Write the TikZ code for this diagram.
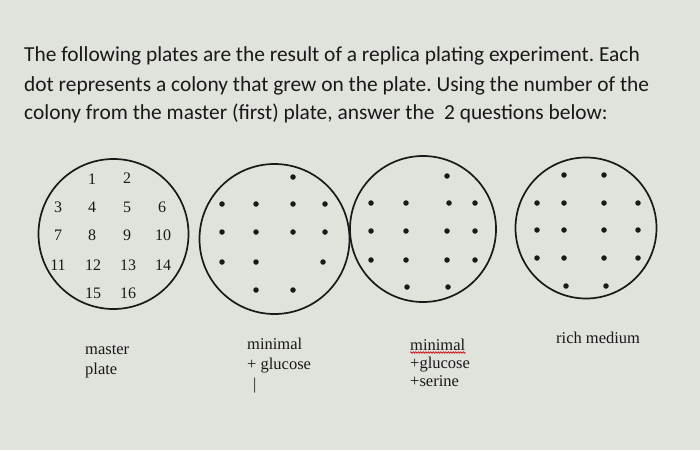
\documentclass[tikz,border=0pt]{standalone}
\usepackage{fontspec}
\setmainfont{Liberation Serif}
\newfontfamily\titlefont{Carlito}
\usetikzlibrary{decorations.pathmorphing}
\frenchspacing
\definecolor{bgcol}{RGB}{224,226,220}
\definecolor{inkcol}{RGB}{25,25,25}
\tikzset{
  plate/.style={circle, draw=inkcol, line width=1.7pt, inner sep=0pt},
  colony/.style={circle, fill=inkcol, inner sep=0pt, minimum size=5.5pt},
  num/.style={font=\fontsize{16}{16}\selectfont, text=inkcol, inner sep=0pt},
  titleline/.style={anchor=base west, inner sep=0pt, text=inkcol, font=\titlefont\fontsize{21.4}{21.4}\selectfont},
  lab/.style={anchor=base west, inner sep=0pt, text=inkcol, font=\fontsize{16.5}{16.5}\selectfont},
}
\begin{document}
\begin{tikzpicture}[x=1pt,y=-1pt]
\fill[bgcol] (0,0) rectangle (700,450);
\useasboundingbox (0,0) rectangle (700,450);
% title
\node[titleline] (t1) at (24,61) {The following plates are the result of a replica plating experiment. Each};
\node[titleline] (t2) at (24,91) {dot represents a colony that grew on the plate. Using the number of the};
\node[titleline] (t3) at (24,119) {colony from the master (first) plate, answer the\ \ 2 questions below:};
% plates
\node[plate, minimum size=150pt] (p1) at (113.5,234) {};
\node[plate, minimum size=150pt] (p2) at (274.5,239) {};
\node[plate, minimum size=146pt] (p3) at (423,229) {};
\node[plate, minimum size=141pt] (p4) at (586,228) {};
% master numbers
\node[num] (n1) at (92,179) {1};
\node[num] (n2) at (127,178) {2};
\node[num] (n3) at (58,207) {3};
\node[num] (n4) at (92,207) {4};
\node[num] (n5) at (127,207) {5};
\node[num] (n6) at (162,207) {6};
\node[num] (n7) at (58,235) {7};
\node[num] (n8) at (92,235) {8};
\node[num] (n9) at (127,235) {9};
\node[num] (n10) at (163,235) {10};
\node[num] (n11) at (58,265) {11};
\node[num] (n12) at (93,265) {12};
\node[num] (n13) at (128,265) {13};
\node[num] (n14) at (163,265) {14};
\node[num] (n15) at (93,293) {15};
\node[num] (n16) at (128,293) {16};
% plate 2 colonies
\foreach \i/\x/\y in {2/293/177, 3/222/204, 4/256/204, 5/293/204, 6/325/204,
  7/222/232, 8/256/232, 9/293/232, 10/325/232, 11/222/262, 12/256/262, 14/323/262,
  15/256/290, 16/293/290}
  \node[colony] (b\i) at (\x,\y) {};
% plate 3 colonies
\foreach \i/\x/\y in {2/447/176, 3/371/203, 4/406/203, 5/449/203, 6/475/203,
  7/371/231, 8/406/231, 9/447/231, 10/475/231, 11/371/260, 12/406/260, 13/447/260, 14/475/260,
  15/407/287, 16/448/287}
  \node[colony] (c\i) at (\x,\y) {};
% plate 4 colonies
\foreach \i/\x/\y in {1/564/175, 2/604/175, 3/537/203, 4/564/203, 5/604/203, 6/638/203,
  7/537/230, 8/564/230, 9/604/230, 10/638/230, 11/537/258, 12/564/258, 13/604/258, 14/638/258,
  15/566/286, 16/606/286}
  \node[colony] (d\i) at (\x,\y) {};
% labels
\node[lab] (l1a) at (85,354) {master};
\node[lab] (l1b) at (85,374) {plate};
\node[lab] (l2a) at (247,349) {minimal};
\node[lab] (l2b) at (247,369) {+ glucose};
\node[lab] (l2c) at (253,389) {|};
\node[lab] (l3a) at (410,350) {minimal};
\node[lab] (l3b) at (410,368) {+glucose};
\node[lab] (l3c) at (410,386) {+serine};
\node[lab] (l4) at (556,343) {rich medium};
\draw[red!80!black, line width=0.6pt, decorate, decoration={snake, amplitude=0.8pt, segment length=2.5pt}]
  ([yshift=-2.5pt]l3a.base west) -- ([yshift=-2.5pt]l3a.base east);
\end{tikzpicture}
\end{document}
